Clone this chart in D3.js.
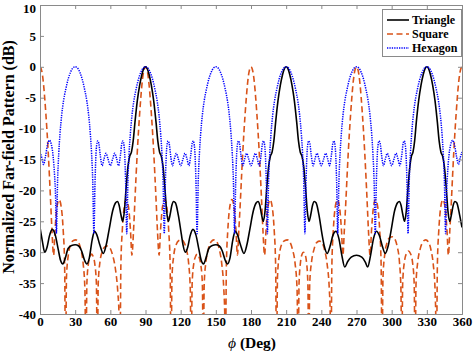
<!DOCTYPE html>
<html><head><meta charset="utf-8">
<script src="https://cdn.jsdelivr.net/npm/d3@7"></script>
<style>body{margin:0;background:#fff}svg{display:block}</style>
</head><body><svg id="c" width="474" height="353"></svg>
<script>
const xTicks = [0,30,60,90,120,150,180,210,240,270,300,330,360];
const yTicks = [-40,-35,-30,-25,-20,-15,-10,-5,0,5,10];
const seriesNames = ["Triangle","Square","Hexagon"];

const triangle = [[0,-26],[2,-28.2],[4,-30],[6,-29.2],[8,-27.4],[10.5,-26.3],[13,-27.2],[15.5,-29.5],[17.5,-31.3],[19.5,-31.9],[21.5,-31],[24,-29.4],[27,-28.9],[30,-28.8],[33,-29],[35.5,-29.8],[38,-31.3],[40,-31.9],[42,-31],[44.5,-28],[46.5,-26.6],[48.5,-27.2],[51,-28.8],[54,-30.2],[56.5,-28.8],[59,-26.3],[62,-23.3],[64.5,-22],[66,-21.8],[67.5,-22.4],[69,-23.9],[70.5,-25],[72,-23.3],[73.5,-19.5],[75,-16.2],[76.5,-14.5],[78,-13.8],[79.5,-12],[81,-9],[83,-5.5],[85,-3],[87,-1.2],[88.5,-0.3],[90,0],
[91.5,-0.3],[93,-1.2],[95,-3],[97,-5.5],[99,-9],[100.5,-12],[102,-13.8],[103.5,-14.5],[105,-16.2],[106.5,-19.5],[108,-23.3],[109.5,-25],[111,-23.9],[112.5,-22.4],[114,-21.8],[115.5,-22],[118,-24],[120.5,-27],[122,-28.8],[124,-30],[126,-29.2],[128,-27.4],[130.5,-26.3],[133,-27.2],[135.5,-29.5],[137.5,-31.3],[139.5,-31.9],[141.5,-31],[144,-29.4],[147,-28.9],[150,-28.8],[153,-29],[155.5,-29.8],[158,-31.3],[160,-31.9],[162,-31],[164.5,-28],[166.5,-26.6],[168.5,-27.2],[171,-28.8],[174,-30.2],[176.5,-28.8],[179,-26.3],[182,-23.3],[184.5,-22],[186,-21.8],[187.5,-22.4],[189,-23.9],[190.5,-25],[192,-23.3],[193.5,-19.5],[195,-16.2],[196.5,-14.5],[198,-13.8],[199.5,-12],[201,-9],[203,-5.5],[205,-3],[207,-1.2],[208.5,-0.3],[210,0],
[211.5,-0.3],[213,-1.2],[215,-3],[217,-5.5],[219,-9],[220.5,-12],[222,-13.8],[223.5,-14.5],[225,-16.2],[226.5,-19.5],[228,-23.3],[229.5,-25],[231,-23.9],[232.5,-22.4],[234,-21.8],[235.5,-22],[238,-24],[240.5,-27],[242.5,-29],[245,-30.2],[247.5,-29],[250,-27.2],[252.5,-26.6],[255,-27.8],[257.5,-30.5],[260,-32.4],[262.5,-31.5],[265.5,-30.8],[270,-30.5],[274.5,-30.8],[277.5,-31.6],[279.5,-32.4],[282,-30.5],[284.5,-27.8],[287,-26.6],[289.5,-27.3],[292,-29],[294.5,-30.2],[297,-29],[299.5,-26.5],[302.5,-23.3],[305,-22],[306.5,-21.8],[308,-22.4],[309.5,-23.9],[311,-25],[312.5,-23.3],[314,-19.5],[315.5,-16.2],[316.8,-14.5],[318.2,-13.8],[319.6,-12],[321,-9],[323,-5.5],[325,-3],[327,-1.2],[328.5,-0.3],[330,0],
[331.5,-0.3],[333,-1.2],[335,-3],[337,-5.5],[339,-9],[340.5,-12],[342,-13.8],[343.5,-14.5],[345,-16.2],[346.5,-19.5],[348,-23.3],[349.5,-25],[351,-23.9],[352.5,-22.4],[354,-21.8],[355.5,-22],[358,-24],[360,-26]];

const square = [[0,0],[1,-0.3],[2,-1.2],[3,-2.8],[4,-5],[5,-7.6],[6,-10.5],[7,-13.8],[8,-17.5],[9,-21.5],[10.2,-26.5],[11.6,-30.5],[12.8,-26.5],[14.4,-22.8],[16.3,-21.5],[18.2,-22.8],[19.8,-26.5],[21,-32],[21.8,-48],
[22.6,-34],[24.2,-30.4],[26.3,-28.7],[28.5,-28.1],[30.5,-28],[32.5,-28.3],[34.8,-29.5],[36.8,-31.8],[38.3,-36],[39.2,-48],[40,-35],[41.4,-31.7],[42.9,-30.6],[44,-30.3],[45.1,-30.6],[46.6,-31.7],[48.1,-35],[48.9,-48],[49.7,-35],[51.2,-31.5],[53.3,-29.8],[55.5,-29.1],[57.5,-29],[59.6,-29.3],[62,-30.5],[64.4,-32.8],[66.4,-36.5],[67.4,-40],[68.2,-48],
[69,-32],[70.2,-26.5],[71.8,-22.8],[73.7,-21.5],[75.6,-22.8],[77.2,-26.5],[78.4,-30.5],[79.8,-26.5],[81,-21.5],[82,-17.5],[83,-13.8],[84,-10.5],[85,-7.6],[86,-5],[87,-2.8],[88,-1.2],[89,-0.3],[90,0],[91,-0.3],[92,-1.2],[93,-2.8],[94,-5],[95,-7.6],[96,-10.5],[97,-13.8],[98,-17.5],[99,-21.5],[100.2,-26.5],[101.6,-30.5],[102.8,-26.5],[104.4,-22.8],[106.3,-21.5],[108.2,-22.8],[109.8,-26.5],[111,-32],[111.8,-48],
[112.6,-34],[114.2,-30.4],[116.3,-28.7],[118.5,-28.1],[120.5,-28],[122.5,-28.3],[124.8,-29.5],[126.8,-31.8],[128.2,-36],[129,-48],[129.8,-35],[131.3,-31.7],[132.9,-30.6],[134.1,-30.3],[135.3,-30.6],[136.9,-31.7],[138.5,-35],[139.3,-48],[140.1,-35],[141.6,-31.5],[143.6,-29.5],[146,-28.3],[148.3,-28],[150.5,-28.2],[152.8,-29.4],[155,-31.8],[156.8,-36],[157.6,-40],[158.2,-48],
[159,-32],[160.2,-26.5],[161.8,-22.8],[163.7,-21.5],[165.6,-22.8],[167.2,-26.5],[168.4,-30.5],[169.6,-26.5],[171,-21.5],[172,-17.5],[173,-13.8],[174,-10.5],[175,-7.6],[176,-5],[177,-2.8],[178,-1.2],[179,-0.3],[180,0],[181,-0.3],[182,-1.2],[183,-2.8],[184,-5],[185,-7.6],[186,-10.5],[187,-13.8],[188,-17.5],[189,-21.5],[190.2,-26.5],[191.6,-30.5],[192.8,-26.5],[194.4,-22.8],[196.3,-21.5],[198.2,-22.8],[199.8,-26.5],[201,-32],[201.8,-48],
[202.6,-34],[204.2,-30.4],[206.5,-28.6],[209,-28.1],[211,-28],[213,-28.3],[215.3,-29.5],[217.6,-31.8],[219.3,-36],[220.2,-48],[221,-35],[222.3,-31.5],[223.6,-30.3],[224.8,-30],[226,-30.3],[227.3,-31.5],[228.5,-35],[229.3,-48],[230.1,-35],[231.7,-31.5],[233.8,-29.5],[236.2,-28.4],[238.5,-28.2],[240.7,-28.5],[243,-29.8],[245,-32],[246.8,-36],[247.6,-40],[248.2,-48],
[249,-32],[250.2,-26.5],[251.8,-22.8],[253.7,-21.5],[255.6,-22.8],[257.2,-26.5],[258.4,-30.5],[259.6,-26.5],[261,-21.5],[262,-17.5],[263,-13.8],[264,-10.5],[265,-7.6],[266,-5],[267,-2.8],[268,-1.2],[269,-0.3],[270,0],[271,-0.3],[272,-1.2],[273,-2.8],[274,-5],[275,-7.6],[276,-10.5],[277,-13.8],[278,-17.5],[279,-21.5],[280.2,-26.5],[281.6,-30.5],[282.8,-26.5],[284.4,-22.8],[286.3,-21.5],[288.2,-22.8],[289.8,-26.5],[291,-32],[291.8,-48],
[292.6,-34],[294.2,-30.2],[296.3,-28.3],[298.5,-27.6],[300.5,-27.5],[302.5,-27.8],[304.6,-29],[306.6,-31.5],[307.9,-36],[308.6,-48],[309.4,-35],[310.9,-31.5],[312.6,-30.2],[314.3,-29.8],[316,-30.2],[317.7,-31.5],[319.2,-35],[320,-48],[320.8,-35],[322.3,-31.5],[324.3,-29.5],[326.7,-28.3],[329,-28],[331.2,-28.3],[333.5,-29.6],[335.5,-32],[337,-36],[337.6,-40],[338.2,-48],
[339,-32],[340.2,-26.5],[341.8,-22.8],[343.7,-21.5],[345.6,-22.8],[347.2,-26.5],[348.4,-30.5],[349.6,-26.5],[351,-21.5],[352,-17.5],[353,-13.8],[354,-10.5],[355,-7.6],[356,-5],[357,-2.8],[358,-1.2],[359,-0.3],[360,0]];

const hexagon = [[0,-13.8],[1.5,-14.7],[3,-15.8],[4.6,-14.6],[6.3,-12.7],[8,-11.9],[9.7,-12.6],[11.2,-14.5],[12.4,-17.5],[13.3,-21],[14,-27],
[15,-18.5],[16,-14],[17,-11],[18.5,-7.8],[20,-5.6],[22,-3.6],[24,-2],[26,-0.9],[28,-0.2],[30,0],[32,-0.2],[34,-0.9],[36,-2],[38,-3.6],[40,-5.6],[41.5,-7.8],[43,-11],[44,-14],[45,-18.5],[46,-27],
[46.9,-19],[47.8,-14],[48.8,-12.2],[49.2,-12],[50.2,-12.4],[51.4,-14.3],[53,-16],[54.6,-14.9],[56.3,-14],[58,-14.9],[60,-16],[62,-14.9],[63.7,-14],[65.4,-14.9],[67,-16],[68.6,-14.3],[69.8,-12.4],[70.8,-12],[71.2,-12.2],[72.2,-14],[73.1,-19],[74,-27],
[75,-18.5],[76,-14],[77,-11],[78.5,-7.8],[80,-5.6],[82,-3.6],[84,-2],[86,-0.9],[88,-0.2],[90,0],[92,-0.2],[94,-0.9],[96,-2],[98,-3.6],[100,-5.6],[101.5,-7.8],[103,-11],[104,-14],[105,-18.5],[106,-27],
[106.9,-19],[107.8,-14],[108.8,-12.2],[109.2,-12],[110.2,-12.4],[111.4,-14.3],[113,-16],[114.6,-14.9],[116.3,-14],[118,-14.9],[120,-16],[122,-14.9],[123.7,-14],[125.4,-14.9],[127,-16],[128.6,-14.3],[129.8,-12.4],[130.8,-12],[131.2,-12.2],[132.2,-14],[133.1,-19],[134,-27],
[135,-18.5],[136,-14],[137,-11],[138.5,-7.8],[140,-5.6],[142,-3.6],[144,-2],[146,-0.9],[148,-0.2],[150,0],[152,-0.2],[154,-0.9],[156,-2],[158,-3.6],[160,-5.6],[161.5,-7.8],[163,-11],[164,-14],[165,-18.5],[166,-27],
[166.9,-19],[167.8,-14],[168.8,-12.2],[169.2,-12],[170.2,-12.4],[171.4,-14.3],[173,-16],[174.6,-14.9],[176.3,-14],[178,-14.9],[180,-16],[182,-14.9],[183.7,-14],[185.4,-14.9],[187,-16],[188.6,-14.3],[189.8,-12.4],[190.8,-12],[191.2,-12.2],[192.2,-14],[193.1,-19],[194,-27],
[195,-18.5],[196,-14],[197,-11],[198.5,-7.8],[200,-5.6],[202,-3.6],[204,-2],[206,-0.9],[208,-0.2],[210,0],[212,-0.2],[214,-0.9],[216,-2],[218,-3.6],[220,-5.6],[221.5,-7.8],[223,-11],[224,-14],[225,-18.5],[226,-27],
[226.9,-19],[227.8,-14],[228.8,-12.2],[229.2,-12],[230.2,-12.4],[231.4,-14.3],[233,-16],[234.6,-14.9],[236.3,-14],[238,-14.9],[240,-16],[242,-14.9],[243.7,-14],[245.4,-14.9],[247,-16],[248.6,-14.3],[249.8,-12.4],[250.8,-12],[251.2,-12.2],[252.2,-14],[253.1,-19],[254,-27],
[255,-18.5],[256,-14],[257,-11],[258.5,-7.8],[260,-5.6],[262,-3.6],[264,-2],[266,-0.9],[268,-0.2],[270,0],[272,-0.2],[274,-0.9],[276,-2],[278,-3.6],[280,-5.6],[281.5,-7.8],[283,-11],[284,-14],[285,-18.5],[286,-27],
[286.9,-19],[287.8,-14],[288.8,-12.2],[289.2,-12],[290.2,-12.4],[291.4,-14.3],[293,-16],[294.6,-14.9],[296.3,-14],[298,-14.9],[300,-16],[302,-14.9],[303.7,-14],[305.4,-14.9],[307,-16],[308.6,-14.3],[309.8,-12.4],[310.8,-12],[311.2,-12.2],[312.2,-14],[313.1,-19],[314,-27],
[315,-18.5],[316,-14],[317,-11],[318.5,-7.8],[320,-5.6],[322,-3.6],[324,-2],[326,-0.9],[328,-0.2],[330,0],[332,-0.2],[334,-0.9],[336,-2],[338,-3.6],[340,-5.6],[341.5,-7.8],[343,-11],[344,-14],[345,-18.5],[346,-27],
[346.7,-21],[347.6,-17.5],[348.8,-14.5],[350.3,-12.6],[352,-11.9],[353.7,-12.7],[355.4,-14.6],[357,-15.8],[358.5,-14.7],[360,-13.8]];

const series = [
  {name: seriesNames[0], data: triangle, color: "#000000", dash: null, width: 1.6},
  {name: seriesNames[1], data: square, color: "#D95319", dash: "6,3.5", width: 1.6},
  {name: seriesNames[2], data: hexagon, color: "#0000FF", dash: "1.3,1.1", width: 1.5}
];

const svg = d3.select("#c");
const L = 40, R = 462, T = 5, B = 314;
const x = d3.scaleLinear().domain([0,360]).range([L,R]);
const y = d3.scaleLinear().domain([-40,10]).range([B,T]);
const font = "'Liberation Serif','Times New Roman',serif";

svg.append("rect").attr("x",L).attr("y",T).attr("width",R-L).attr("height",B-T).attr("fill","#fff");
svg.append("defs").append("clipPath").attr("id","clip").append("rect")
  .attr("x",L).attr("y",T).attr("width",R-L).attr("height",B-T);

const line = d3.line().x(d=>x(d[0])).y(d=>y(d[1])).curve(d3.curveMonotoneX);
const g = svg.append("g").attr("clip-path","url(#clip)");
[series[1], series[0], series[2]].forEach(s=>{
  g.append("path").datum(s.data).attr("d",line).attr("fill","none")
   .attr("stroke",s.color).attr("stroke-width",s.width)
   .attr("stroke-dasharray",s.dash).attr("stroke-linejoin","round");
});

const axisColor = "#8a8a8a";
function styleAxis(sel){
  sel.selectAll(".domain").attr("stroke",axisColor).attr("stroke-width",1);
  sel.selectAll(".tick line").attr("stroke",axisColor);
  sel.selectAll(".tick text").attr("fill","#000").style("font-family",font)
    .style("font-weight","bold").style("font-size","13px");
}
const gx = svg.append("g").attr("transform",`translate(0,${B})`)
  .call(d3.axisBottom(x).tickValues(xTicks).tickSize(-4).tickPadding(3).tickFormat(d3.format("d")));
styleAxis(gx);
const gy = svg.append("g").attr("transform",`translate(${L},0)`)
  .call(d3.axisLeft(y).tickValues(yTicks).tickSize(-4).tickPadding(4).tickFormat(d=>d));
styleAxis(gy);
gy.selectAll(".tick text").filter(d=>d===10).attr("dy","0.6em");
const gt = svg.append("g").attr("transform",`translate(0,${T})`)
  .call(d3.axisTop(x).tickValues(xTicks).tickSize(-4).tickFormat(""));
styleAxis(gt);
const gr = svg.append("g").attr("transform",`translate(${R},0)`)
  .call(d3.axisRight(y).tickValues(yTicks).tickSize(-4).tickFormat(""));
styleAxis(gr);

const xt = svg.append("text").attr("x",252).attr("y",348).attr("text-anchor","middle")
  .style("font-family",font).style("font-size","15.5px").style("font-weight","bold");
xt.append("tspan").text("\u03D5").style("font-style","italic").style("font-weight","normal");
xt.append("tspan").text(" (Deg)");
svg.append("text").attr("transform","translate(14,157) rotate(-90)").attr("text-anchor","middle")
  .style("font-family",font).style("font-size","16px").style("font-weight","bold")
  .text("Normalized Far-field Pattern (dB)");

const lg = svg.append("g");
lg.append("rect").attr("x",382.5).attr("y",9.5).attr("width",79).attr("height",47)
  .attr("fill","#fff").attr("stroke",axisColor).attr("stroke-width",1);
series.forEach((s,i)=>{
  const yy = 20 + i*14;
  lg.append("line").attr("x1",387).attr("x2",409).attr("y1",yy).attr("y2",yy)
    .attr("stroke",s.color).attr("stroke-width",s.width).attr("stroke-dasharray",s.dash);
  lg.append("text").attr("x",412).attr("y",yy+4).text(s.name)
    .style("font-family",font).style("font-size","12px").style("font-weight","bold");
});
</script></body></html>
